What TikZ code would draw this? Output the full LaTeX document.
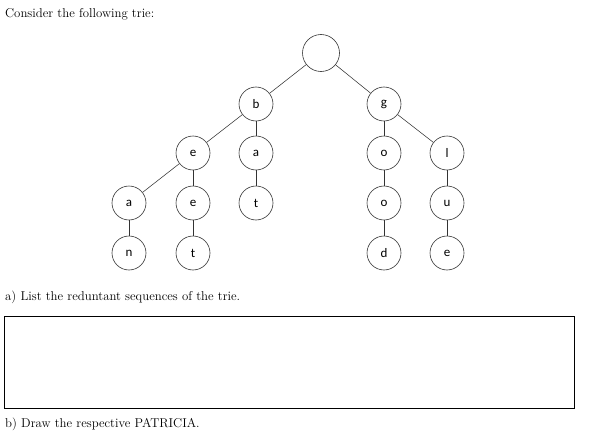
\documentclass[tikz,border=0pt]{standalone}
\usepackage{fontspec}
\newfontfamily\trieletters{Carlito}
\usetikzlibrary{positioning}

\begin{document}
\begin{tikzpicture}[x=1pt,y=-1pt,
  letter/.style={circle,draw=black!80,line width=0.6pt,minimum size=34pt,inner sep=0pt,font=\trieletters\fontsize{13}{15}\selectfont},
  link/.style={draw=black!80,line width=0.55pt},
  prose/.style={anchor=base west,inner sep=0pt,font=\fontsize{12.8}{15}\selectfont}]
\useasboundingbox (0,0) rectangle (595,439);
\node[prose] (intro) at (5,17.5) {Consider the following trie:};
% the trie
\node[letter,minimum size=37pt] (root) at (321,53) {};
\node[letter] (b) at (256,104) {b};
\node[letter] (be) at (193,153) {e};
\node[letter] (ba) at (256,153) {a};
\node[letter] (bea) at (129,203) {a};
\node[letter] (bee) at (193,203) {e};
\node[letter] (bat) at (256,203) {t};
\node[letter] (bean) at (129,253) {n};
\node[letter] (beet) at (193,253) {t};
\node[letter] (g) at (384,104) {g};
\node[letter] (go) at (384,153) {o};
\node[letter] (gl) at (447,153) {l};
\node[letter] (goo) at (384,203) {o};
\node[letter] (glu) at (447,203) {u};
\node[letter] (good) at (384,253) {d};
\node[letter] (glue) at (447,253) {e};
\foreach \a/\z in {root/b,root/g,b/be,b/ba,be/bea,be/bee,ba/bat,bea/bean,bee/beet,g/go,g/gl,go/goo,goo/good,gl/glu,glu/glue}
  \draw[link] (\a) -- (\z);
% questions
\node[prose] (qa) at (5,300) {a) List the reduntant sequences of the trie.};
\draw[line width=0.8pt] (4,316.5) rectangle (574.5,408);
\node[prose] (qb) at (5,427) {b) Draw the respective PATRICIA.};
\end{tikzpicture}
\end{document}
